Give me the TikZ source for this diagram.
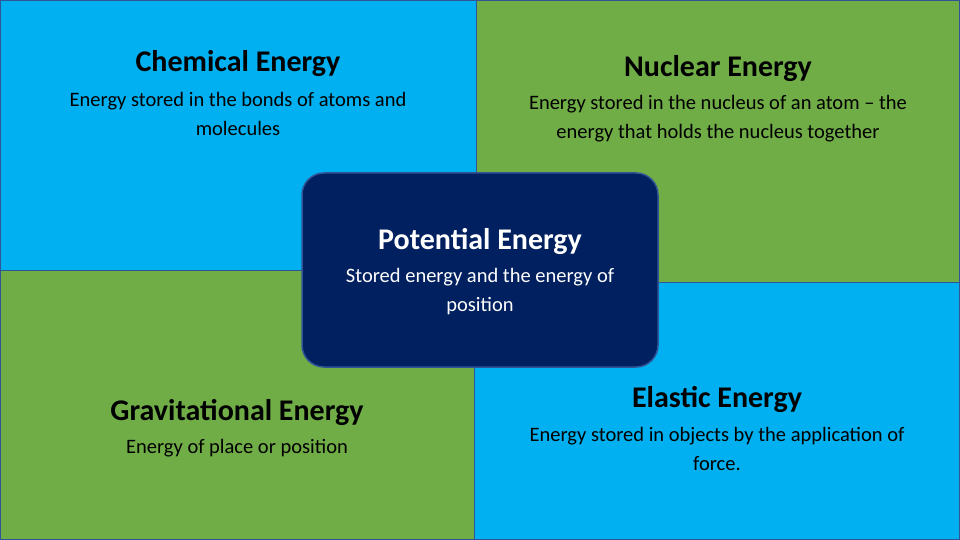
\documentclass[tikz,border=0pt]{standalone}
\usepackage{fontspec}
\setmainfont{Carlito}
\definecolor{bl}{HTML}{00B0F0}
\definecolor{gr}{HTML}{70AD47}
\definecolor{nv}{HTML}{002060}
\definecolor{ed}{HTML}{2F5597}
\begin{document}
\begin{tikzpicture}[x=1pt,y=-1pt,
 panel/.style={draw=ed,line width=1pt},
 ttl/.style={font=\bfseries\fontsize{30}{34}\selectfont,text=black,align=center},
 body/.style={font=\fontsize{20.5}{29}\selectfont,text=black,align=center}]
\useasboundingbox (0,0) rectangle (960,540);
\fill[bl] (0,0) rectangle (476,270);
\fill[gr] (476,0) rectangle (960,282);
\fill[gr] (0,270) rectangle (474,540);
\fill[bl] (474,282) rectangle (960,540);
\draw[panel] (0.5,0.5) rectangle (476,270);
\draw[panel] (476,0.5) rectangle (959.5,282);
\draw[panel] (0.5,270) rectangle (474,539.5);
\draw[panel] (474,282) rectangle (959.5,539.5);
\node[draw=ed,line width=1.5pt,fill=nv,rounded corners=22pt,minimum width=356pt,minimum height=194pt] (c) at (480,270) {};
\node[ttl] (t1) at (238,64) {Chemical Energy};
\node[body] (b1) at (238,114) {Energy stored in the bonds of atoms and\\molecules};
\node[ttl] (t2) at (718,69) {Nuclear Energy};
\node[body] (b2) at (718,119) {Energy stored in the nucleus of an atom -- the\\energy that holds the nucleus together};
\node[ttl,text=white] (t0) at (480,241) {Potential Energy};
\node[body,text=white] (b0) at (480,292) {Stored energy and the energy of\\position};
\node[ttl] (t3) at (237,412) {Gravitational Energy};
\node[body] (b3) at (237,448) {Energy of place or position};
\node[ttl] (t4) at (717,399) {Elastic Energy};
\node[body] (b4) at (717,449) {Energy stored in objects by the application of\\force.};
\end{tikzpicture}
\end{document}
